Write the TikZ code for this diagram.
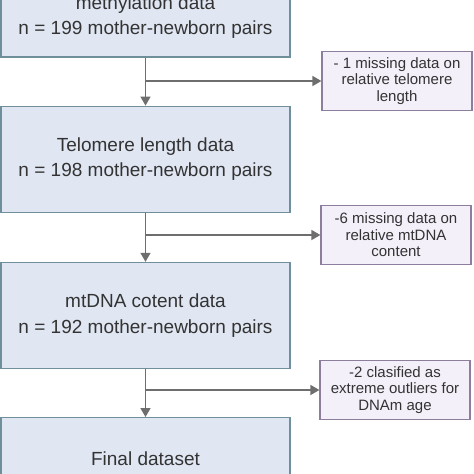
\documentclass[tikz,border=0pt]{standalone}
\usepackage{fontspec}
\setmainfont{Liberation Sans}
\usetikzlibrary{positioning,arrows.meta}
\definecolor{mainfill}{HTML}{E0E7F3}
\definecolor{maindraw}{HTML}{6F8F9B}
\definecolor{sidefill}{HTML}{F4F0F9}
\definecolor{sidedraw}{HTML}{8C7E9C}
\definecolor{arrowgray}{HTML}{6E6E6E}
\definecolor{textgray}{HTML}{333333}
\tikzset{
  mainbox/.style={draw=maindraw, fill=mainfill, line width=1.2pt, rectangle, minimum width=289pt, align=center, text=textgray, font=\fontsize{19}{25.5}\selectfont},
  sidebox/.style={draw=sidedraw, fill=sidefill, line width=1.2pt, rectangle, minimum width=150pt, minimum height=59pt, inner sep=2pt, align=center, text=textgray, font=\fontsize{15}{16.5}\selectfont},
  flow/.style={draw=arrowgray, line width=1.5pt, -{Triangle[length=9pt,width=10pt]}}
}
\begin{document}
\begin{tikzpicture}[x=1pt, y=-1pt, node distance=49pt]
\useasboundingbox (0,0) rectangle (474,474);
\node (dnam) [mainbox, minimum height=80pt] at (145.5,17) {methylation data\\n = 199 mother-newborn pairs};
\node (telo) [mainbox, minimum height=106pt, below=48pt of dnam] {Telomere length data\\n = 198 mother-newborn pairs};
\node (mtdna) [mainbox, minimum height=106pt, below=of telo] {mtDNA cotent data\\n = 192 mother-newborn pairs};
\node (final) [mainbox, minimum height=82pt, below=48pt of mtdna] {Final dataset};
\node (miss1) [sidebox] at (397,81) {- 1 missing data on\\relative telomere\\length};
\node (miss2) [sidebox] at (396,235) {-6 missing data on\\relative mtDNA\\content};
\node (outl) [sidebox] at (395,390) {-2 clasified as\\extreme outliers for\\DNAm age};
\draw[flow] (dnam) -- (telo);
\draw[flow] (telo) -- (mtdna);
\draw[flow] (mtdna) -- (final);
\draw[flow] (dnam.south |- miss1.west) -- (miss1.west);
\draw[flow] (telo.south |- miss2.west) -- (miss2.west);
\draw[flow] (mtdna.south |- outl.west) -- (outl.west);
\end{tikzpicture}
\end{document}
